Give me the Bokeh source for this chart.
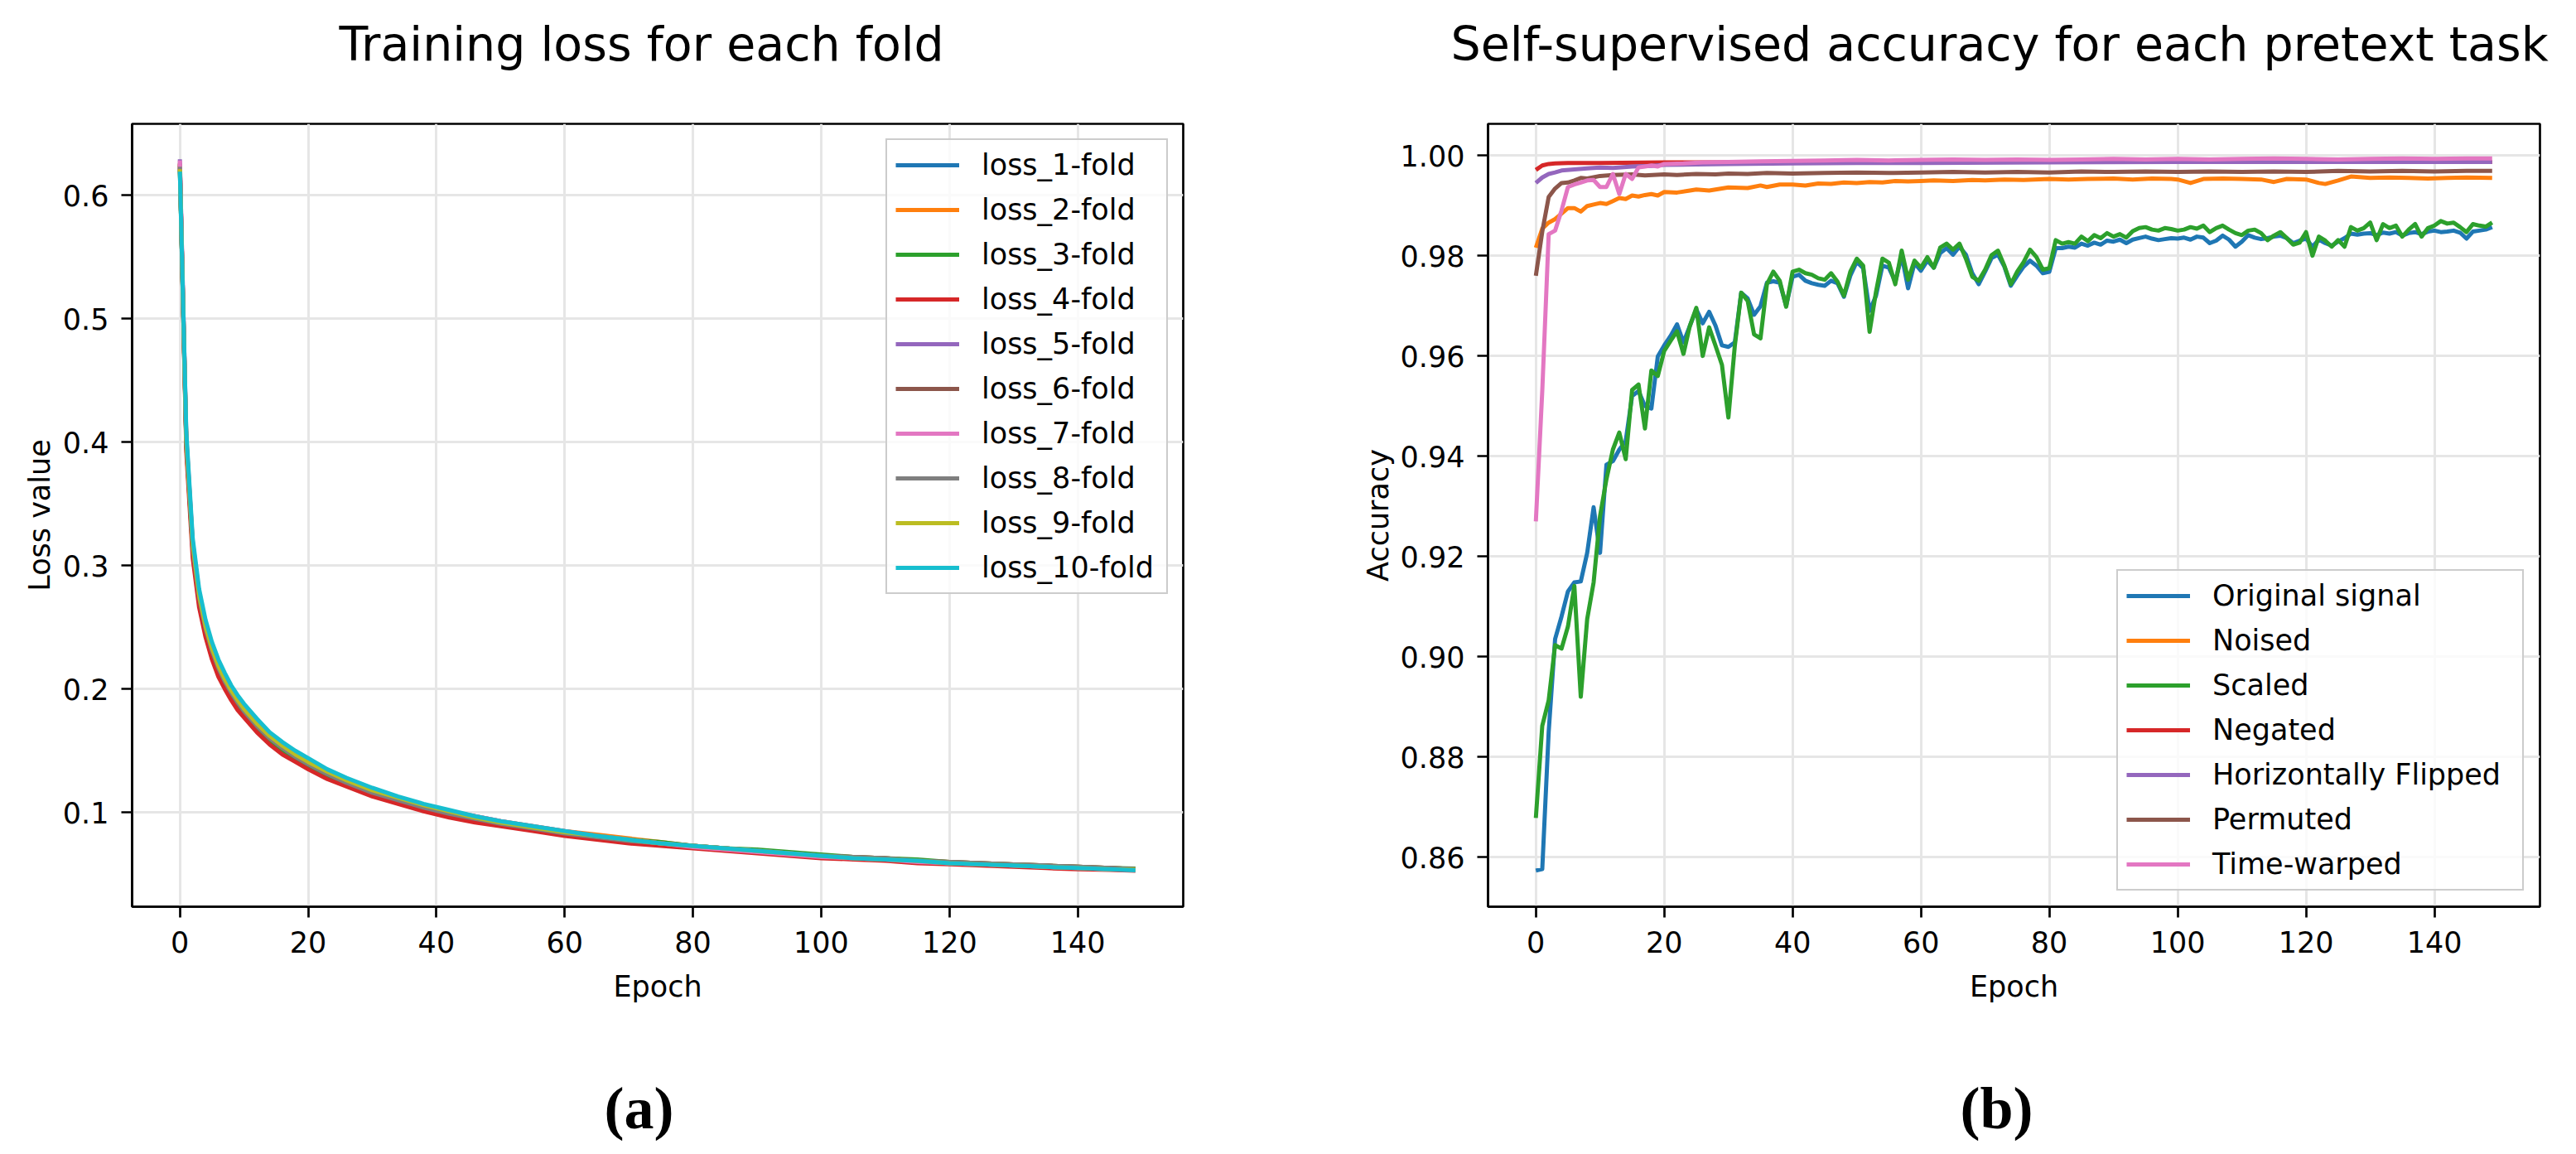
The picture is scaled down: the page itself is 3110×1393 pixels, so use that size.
from bokeh.plotting import figure
from bokeh.models import Range1d, FixedTicker, PrintfTickFormatter, Title
from bokeh.layouts import row
from bokeh.embed import file_html
from bokeh.resources import INLINE

FONT = "DejaVu Sans"

# ---------------- Data: (a) training loss per fold ----------------
loss_epochs = [0, 1, 2, 3, 4, 5, 6, 7, 8, 9, 10, 12, 14, 16, 18, 20, 23, 26, 30, 34, 38, 42,
               46, 50, 55, 60, 65, 70, 75, 80, 85, 90, 95, 100, 105, 110, 115, 120, 125, 130,
               135, 140, 145, 149]

loss_1_fold = [0.622, 0.398, 0.313, 0.273, 0.248, 0.230, 0.216, 0.205, 0.196, 0.188, 0.181, 0.169,
               0.159, 0.151, 0.145, 0.139, 0.131, 0.124, 0.116, 0.110, 0.104, 0.099, 0.095, 0.091,
               0.087, 0.083, 0.080, 0.077, 0.074, 0.072, 0.070, 0.068, 0.066, 0.064, 0.063, 0.062,
               0.060, 0.059, 0.058, 0.057, 0.056, 0.055, 0.054, 0.0535]
loss_2_fold = [0.624, 0.401, 0.316, 0.276, 0.251, 0.233, 0.219, 0.208, 0.199, 0.191, 0.184, 0.172,
               0.162, 0.154, 0.147, 0.141, 0.133, 0.126, 0.118, 0.112, 0.106, 0.101, 0.097, 0.093,
               0.089, 0.085, 0.082, 0.079, 0.076, 0.073, 0.071, 0.069, 0.067, 0.065, 0.064, 0.063,
               0.061, 0.060, 0.059, 0.058, 0.057, 0.056, 0.055, 0.054]
loss_3_fold = [0.620, 0.397, 0.312, 0.272, 0.247, 0.229, 0.215, 0.204, 0.195, 0.187, 0.180, 0.168,
               0.158, 0.150, 0.144, 0.138, 0.130, 0.123, 0.115, 0.109, 0.104, 0.099, 0.096, 0.092,
               0.088, 0.084, 0.081, 0.078, 0.076, 0.073, 0.071, 0.070, 0.068, 0.066, 0.064, 0.063,
               0.062, 0.060, 0.059, 0.058, 0.057, 0.056, 0.055, 0.0545]
loss_4_fold = [0.626, 0.392, 0.306, 0.266, 0.242, 0.224, 0.210, 0.200, 0.191, 0.183, 0.177, 0.165,
               0.155, 0.147, 0.141, 0.135, 0.127, 0.121, 0.113, 0.107, 0.101, 0.096, 0.092, 0.089,
               0.085, 0.081, 0.078, 0.075, 0.073, 0.071, 0.069, 0.067, 0.065, 0.063, 0.062, 0.061,
               0.059, 0.058, 0.057, 0.056, 0.055, 0.054, 0.0535, 0.0528]
loss_5_fold = [0.629, 0.403, 0.318, 0.277, 0.252, 0.234, 0.220, 0.209, 0.200, 0.192, 0.185, 0.173,
               0.163, 0.155, 0.148, 0.142, 0.134, 0.127, 0.119, 0.112, 0.106, 0.101, 0.097, 0.093,
               0.089, 0.085, 0.081, 0.078, 0.075, 0.073, 0.071, 0.069, 0.067, 0.065, 0.063, 0.062,
               0.061, 0.059, 0.058, 0.057, 0.056, 0.055, 0.054, 0.0535]
loss_6_fold = [0.625, 0.400, 0.315, 0.275, 0.250, 0.232, 0.218, 0.207, 0.198, 0.190, 0.183, 0.171,
               0.161, 0.153, 0.146, 0.140, 0.132, 0.125, 0.117, 0.111, 0.105, 0.100, 0.096, 0.092,
               0.088, 0.084, 0.081, 0.078, 0.075, 0.073, 0.071, 0.069, 0.067, 0.065, 0.064, 0.063,
               0.061, 0.060, 0.059, 0.058, 0.057, 0.056, 0.055, 0.054]
loss_7_fold = [0.628, 0.405, 0.319, 0.278, 0.253, 0.235, 0.221, 0.210, 0.201, 0.193, 0.186, 0.174,
               0.163, 0.155, 0.148, 0.142, 0.134, 0.127, 0.118, 0.112, 0.106, 0.101, 0.097, 0.093,
               0.088, 0.084, 0.081, 0.078, 0.075, 0.072, 0.070, 0.068, 0.066, 0.064, 0.063, 0.062,
               0.060, 0.059, 0.058, 0.057, 0.056, 0.055, 0.054, 0.0535]
loss_8_fold = [0.623, 0.399, 0.314, 0.274, 0.249, 0.231, 0.217, 0.206, 0.197, 0.189, 0.182, 0.170,
               0.160, 0.152, 0.145, 0.139, 0.131, 0.124, 0.116, 0.110, 0.104, 0.099, 0.095, 0.091,
               0.087, 0.083, 0.080, 0.077, 0.075, 0.073, 0.071, 0.069, 0.067, 0.065, 0.064, 0.063,
               0.061, 0.060, 0.059, 0.058, 0.057, 0.056, 0.055, 0.054]
loss_9_fold = [0.621, 0.402, 0.317, 0.276, 0.251, 0.233, 0.219, 0.208, 0.199, 0.191, 0.184, 0.172,
               0.162, 0.154, 0.147, 0.141, 0.133, 0.126, 0.118, 0.112, 0.106, 0.101, 0.096, 0.092,
               0.088, 0.084, 0.081, 0.078, 0.075, 0.073, 0.071, 0.069, 0.067, 0.065, 0.063, 0.062,
               0.061, 0.059, 0.058, 0.057, 0.056, 0.055, 0.054, 0.0538]
loss_10_fold = [0.619, 0.408, 0.322, 0.281, 0.256, 0.238, 0.224, 0.213, 0.203, 0.195, 0.188, 0.176,
                0.165, 0.157, 0.150, 0.144, 0.135, 0.128, 0.120, 0.113, 0.107, 0.102, 0.097, 0.093,
                0.089, 0.085, 0.081, 0.078, 0.075, 0.073, 0.071, 0.069, 0.067, 0.065, 0.063, 0.062,
                0.061, 0.059, 0.058, 0.057, 0.056, 0.055, 0.054, 0.0532]

loss_names = ["loss_1-fold", "loss_2-fold", "loss_3-fold", "loss_4-fold", "loss_5-fold",
              "loss_6-fold", "loss_7-fold", "loss_8-fold", "loss_9-fold", "loss_10-fold"]
loss_series = [loss_1_fold, loss_2_fold, loss_3_fold, loss_4_fold, loss_5_fold,
               loss_6_fold, loss_7_fold, loss_8_fold, loss_9_fold, loss_10_fold]

# ---------------- Data: (b) self-supervised accuracy ----------------
acc_epochs = list(range(150))

acc_original = [
    0.8573, 0.8576, 0.8850, 0.9035, 0.9080, 0.9130, 0.9148, 0.9150, 0.9207, 0.9298,
    0.9207, 0.9383, 0.9390, 0.9413, 0.9430, 0.9520, 0.9530, 0.9500, 0.9495, 0.9599,
    0.9621, 0.9640, 0.9663, 0.9627, 0.9660, 0.9693, 0.9665, 0.9688, 0.9660, 0.9621,
    0.9618, 0.9627, 0.9726, 0.9715, 0.9682, 0.9699, 0.9746, 0.9749, 0.9746, 0.9700,
    0.9758, 0.9762, 0.9750, 0.9745, 0.9742, 0.9740, 0.9750, 0.9745, 0.9718, 0.9760,
    0.9788, 0.9775, 0.9690, 0.9720, 0.9780, 0.9776, 0.9748, 0.9800, 0.9735, 0.9785,
    0.9770, 0.9790, 0.9776, 0.9805, 0.9815, 0.9802, 0.9818, 0.9802, 0.9765, 0.9743,
    0.9768, 0.9795, 0.9802, 0.9778, 0.9740, 0.9760, 0.9778, 0.9790, 0.9780, 0.9765,
    0.9768, 0.9815, 0.9815, 0.9818, 0.9816, 0.9824, 0.9820, 0.9826, 0.9822, 0.9830,
    0.9828, 0.9832, 0.9825, 0.9832, 0.9835, 0.9838, 0.9834, 0.9831, 0.9833, 0.9835,
    0.9834, 0.9836, 0.9832, 0.9838, 0.9836, 0.9825, 0.9830, 0.9840, 0.9832, 0.9818,
    0.9828, 0.9841, 0.9836, 0.9833, 0.9835, 0.9838, 0.9840, 0.9835, 0.9825, 0.9830,
    0.9834, 0.9818, 0.9832, 0.9825, 0.9820, 0.9828, 0.9835, 0.9844, 0.9842, 0.9844,
    0.9845, 0.9841, 0.9846, 0.9844, 0.9847, 0.9840, 0.9845, 0.9847, 0.9843, 0.9848,
    0.9850, 0.9847, 0.9848, 0.9850, 0.9846, 0.9834, 0.9848, 0.9850, 0.9852, 0.9857]

acc_scaled = [
    0.8678, 0.8862, 0.8913, 0.9023, 0.9016, 0.9060, 0.9141, 0.8920, 0.9075, 0.9148,
    0.9280, 0.9354, 0.9413, 0.9447, 0.9394, 0.9532, 0.9543, 0.9455, 0.9571, 0.9560,
    0.9610, 0.9630, 0.9649, 0.9604, 0.9660, 0.9696, 0.9600, 0.9657, 0.9620, 0.9582,
    0.9477, 0.9620, 0.9726, 0.9710, 0.9643, 0.9635, 0.9743, 0.9768, 0.9750, 0.9698,
    0.9768, 0.9772, 0.9765, 0.9762, 0.9755, 0.9752, 0.9765, 0.9748, 0.9720, 0.9768,
    0.9794, 0.9780, 0.9648, 0.9728, 0.9794, 0.9786, 0.9743, 0.9810, 0.9752, 0.9790,
    0.9776, 0.9797, 0.9776, 0.9816, 0.9824, 0.9812, 0.9824, 0.9794, 0.9758, 0.9750,
    0.9772, 0.9801, 0.9810, 0.9780, 0.9743, 0.9768, 0.9787, 0.9812, 0.9797, 0.9772,
    0.9775, 0.9831, 0.9824, 0.9827, 0.9824, 0.9838, 0.9829, 0.9841, 0.9835, 0.9845,
    0.9838, 0.9843, 0.9836, 0.9849, 0.9855, 0.9857, 0.9852, 0.9850, 0.9855, 0.9853,
    0.9850, 0.9852, 0.9857, 0.9854, 0.9860, 0.9847, 0.9855, 0.9860, 0.9852, 0.9845,
    0.9841, 0.9850, 0.9852, 0.9845, 0.9831, 0.9840, 0.9847, 0.9835, 0.9822, 0.9826,
    0.9847, 0.9800, 0.9838, 0.9830, 0.9818, 0.9831, 0.9818, 0.9857, 0.9850, 0.9855,
    0.9866, 0.9831, 0.9863, 0.9855, 0.9860, 0.9838, 0.9852, 0.9863, 0.9838, 0.9855,
    0.9860, 0.9869, 0.9864, 0.9866, 0.9857, 0.9847, 0.9863, 0.9860, 0.9858, 0.9866]

noised_epochs = [0, 1, 2, 3, 4, 5, 6, 7, 8, 9, 10, 11, 12, 13, 14, 15, 16, 17, 18, 19, 20, 22,
                 24, 25, 27, 30, 33, 35, 36, 38, 40, 42, 44, 46, 48, 50, 52, 54, 56, 58, 60, 62,
                 65, 68, 70, 73, 76, 80, 83, 86, 90, 93, 96, 99, 100, 102, 104, 107, 110, 113,
                 115, 117, 120, 122, 123, 125, 127, 130, 133, 136, 139, 142, 145, 149]
acc_noised = [0.9816, 0.9854, 0.9866, 0.9873, 0.9884, 0.9895, 0.9895, 0.9888, 0.9899, 0.9902,
              0.9905, 0.9903, 0.9909, 0.9915, 0.9913, 0.9920, 0.9918, 0.9921, 0.9923, 0.9920,
              0.9927, 0.9926, 0.9930, 0.9932, 0.9930, 0.9936, 0.9935, 0.9940, 0.9937, 0.9942,
              0.9942, 0.9940, 0.9944, 0.9943, 0.9946, 0.9945, 0.9947, 0.9946, 0.9949, 0.9948,
              0.9949, 0.9950, 0.9949, 0.9951, 0.9950, 0.9952, 0.9951, 0.9953, 0.9952, 0.9953,
              0.9954, 0.9952, 0.9954, 0.9953, 0.9952, 0.9945, 0.9953, 0.9954, 0.9953, 0.9952,
              0.9947, 0.9953, 0.9952, 0.9945, 0.9943, 0.9950, 0.9958, 0.9955, 0.9956, 0.9955,
              0.9954, 0.9955, 0.9956, 0.9955]

negated_epochs = [0, 1, 2, 3, 5, 10, 20, 40, 60, 80, 100, 120, 149]
acc_negated = [0.9971, 0.9980, 0.9983, 0.9984, 0.9985, 0.9985, 0.9986, 0.9986, 0.9987, 0.9987,
               0.9987, 0.9987, 0.9987]

hflip_epochs = [0, 1, 2, 3, 4, 6, 8, 10, 12, 15, 18, 20, 25, 30, 40, 50, 60, 80, 100, 120, 149]
acc_hflip = [0.9945, 0.9956, 0.9963, 0.9966, 0.9970, 0.9972, 0.9974, 0.9976, 0.9975, 0.9978,
             0.9979, 0.9981, 0.9982, 0.9983, 0.9984, 0.9985, 0.9985, 0.9986, 0.9987, 0.9987,
             0.9987]

permuted_epochs = [0, 1, 2, 3, 4, 5, 6, 7, 8, 10, 12, 15, 17, 20, 22, 25, 28, 30, 33, 36, 40, 45,
                   50, 55, 60, 65, 70, 75, 80, 85, 90, 95, 100, 105, 110, 115, 120, 125, 130,
                   135, 140, 145, 149]
acc_permuted = [0.9760, 0.9848, 0.9917, 0.9934, 0.9945, 0.9946, 0.9950, 0.9955, 0.9954, 0.9959,
                0.9961, 0.9962, 0.9960, 0.9962, 0.9961, 0.9963, 0.9962, 0.9964, 0.9963, 0.9965,
                0.9964, 0.9965, 0.9966, 0.9965, 0.9966, 0.9967, 0.9966, 0.9967, 0.9966, 0.9968,
                0.9967, 0.9968, 0.9967, 0.9968, 0.9967, 0.9968, 0.9967, 0.9969, 0.9968, 0.9969,
                0.9968, 0.9969, 0.9969]

timewarp_epochs = [0, 1, 2, 3, 4, 5, 6, 7, 8, 9, 10, 11, 12, 13, 14, 15, 16, 17, 18, 19, 20, 23,
                   26, 30, 35, 40, 45, 50, 55, 60, 65, 70, 75, 80, 85, 90, 95, 100, 105, 110,
                   115, 120, 125, 130, 135, 140, 145, 149]
acc_timewarp = [0.9270, 0.9530, 0.9843, 0.9850, 0.9890, 0.9937, 0.9942, 0.9946, 0.9950, 0.9951,
                0.9937, 0.9937, 0.9963, 0.9923, 0.9963, 0.9953, 0.9976, 0.9978, 0.9980, 0.9978,
                0.9983, 0.9984, 0.9986, 0.9987, 0.9988, 0.9989, 0.9990, 0.9991, 0.9990, 0.9991,
                0.9992, 0.9991, 0.9992, 0.9991, 0.9992, 0.9993, 0.9992, 0.9993, 0.9992, 0.9993,
                0.9994, 0.9993, 0.9992, 0.9993, 0.9994, 0.9993, 0.9994, 0.9994]

acc_names = ["Original signal", "Noised", "Scaled", "Negated", "Horizontally Flipped",
             "Permuted", "Time-warped"]
acc_x = [acc_epochs, noised_epochs, acc_epochs, negated_epochs, hflip_epochs,
         permuted_epochs, timewarp_epochs]
acc_y = [acc_original, acc_noised, acc_scaled, acc_negated, acc_hflip, acc_permuted,
         acc_timewarp]

x_ticks = [0, 20, 40, 60, 80, 100, 120, 140]
loss_ticks = [0.1, 0.2, 0.3, 0.4, 0.5, 0.6]
acc_ticks = [0.86, 0.88, 0.90, 0.92, 0.94, 0.96, 0.98, 1.00]

COLORS = ["#1f77b4", "#ff7f0e", "#2ca02c", "#d62728", "#9467bd", "#8c564b", "#e377c2",
          "#7f7f7f", "#bcbd22", "#17becf"]

FRAME_H = 945


def style(p, xlabel, ylabel, yticks, yfmt, ylabel_standoff):
    p.xaxis.axis_label = xlabel
    p.yaxis.axis_label = ylabel
    p.xaxis.ticker = FixedTicker(ticks=x_ticks)
    p.yaxis.ticker = FixedTicker(ticks=yticks)
    p.yaxis.formatter = PrintfTickFormatter(format=yfmt)
    for ax in (p.xaxis[0], p.yaxis[0]):
        ax.major_label_text_font = FONT
        ax.major_label_text_font_size = "35px"
        ax.major_label_text_color = "black"
        ax.axis_label_text_font = FONT
        ax.axis_label_text_font_size = "35px"
        ax.axis_label_text_font_style = "normal"
        ax.axis_label_text_color = "black"
        ax.axis_line_color = "black"
        ax.axis_line_width = 2.7
        ax.major_tick_line_color = "black"
        ax.major_tick_line_width = 2.7
        ax.major_tick_out = 13
        ax.major_tick_in = 0
        ax.minor_tick_out = 0
        ax.minor_tick_in = 0
    p.xaxis.major_label_standoff = 16
    p.xaxis.axis_label_standoff = 18
    p.yaxis.major_label_standoff = 15
    p.yaxis.axis_label_standoff = ylabel_standoff
    for g in (p.xgrid[0], p.ygrid[0]):
        g.grid_line_color = "#e6e6e6"
        g.grid_line_width = 3
    p.outline_line_color = "black"
    p.outline_line_width = 2.7
    p.outline_line_alpha = 1.0
    p.background_fill_color = "white"
    p.border_fill_color = "white"


def style_legend(p, location, margin, label_width):
    lg = p.legend[0]
    lg.location = location
    lg.margin = margin
    lg.padding = 10
    lg.spacing = 14
    lg.glyph_width = 77
    lg.glyph_height = 40
    lg.label_height = 40
    lg.label_width = label_width
    lg.label_standoff = 27
    lg.label_text_font = FONT
    lg.label_text_font_size = "35px"
    lg.label_text_color = "black"
    lg.border_line_color = "#cccccc"
    lg.border_line_width = 2.5
    lg.border_line_alpha = 1.0
    lg.background_fill_color = "white"
    lg.background_fill_alpha = 0.8


def spacer(size):
    return Title(text="\u00a0", text_font_size="2px", standoff=size, text_color="white")


def add_heading(p, text, offset):
    # spacer between frame and heading, then the heading itself (outermost)
    p.add_layout(spacer(60), "above")
    p.add_layout(Title(text=text, align="left", offset=offset, standoff=0,
                       vertical_align="bottom", text_font=FONT, text_font_size="57px",
                       text_font_style="normal", text_color="black"), "above")


def add_caption(p, text, offset):
    p.add_layout(spacer(78), "below")
    p.add_layout(Title(text=text, align="left", offset=offset, standoff=0,
                       vertical_align="bottom", text_font="Liberation Serif",
                       text_font_size="72px", text_font_style="bold",
                       text_color="black"), "below")


# ---------------- Figure (a) ----------------
p1 = figure(title=None, frame_width=1269, frame_height=FRAME_H,
            x_range=Range1d(-7.45, 156.45), y_range=Range1d(0.0237, 0.6577),
            min_border_left=159, min_border_right=119, min_border_top=149,
            min_border_bottom=283, output_backend="svg", toolbar_location=None)
for name, ys, c in zip(loss_names, loss_series, COLORS):
    p1.line(loss_epochs, ys, color=c, line_width=5, line_join="round", legend_label=name)
style(p1, "Epoch", "Loss value", loss_ticks, "%.1f", 5)
style_legend(p1, "top_right", 18, 213)
add_heading(p1, "Training loss for each fold", 250)
add_caption(p1, "(a)", 570)

# ---------------- Figure (b) ----------------
p2 = figure(title=None, frame_width=1270, frame_height=FRAME_H,
            x_range=Range1d(-7.45, 156.45), y_range=Range1d(0.8501, 1.0063),
            min_border_left=249, min_border_right=20, min_border_top=149,
            min_border_bottom=283, output_backend="svg", toolbar_location=None)
for name, xs, ys, c in zip(acc_names, acc_x, acc_y, COLORS):
    p2.line(xs, ys, color=c, line_width=5, line_join="round", legend_label=name)
style(p2, "Epoch", "Accuracy", acc_ticks, "%.2f", 4)
style_legend(p2, "bottom_right", 19, 364)
add_heading(p2, "Self-supervised accuracy for each pretext task", -45)
add_caption(p2, "(b)", 570)

layout = row(p1, p2)
open("out.html", "w").write(file_html(layout, INLINE))
